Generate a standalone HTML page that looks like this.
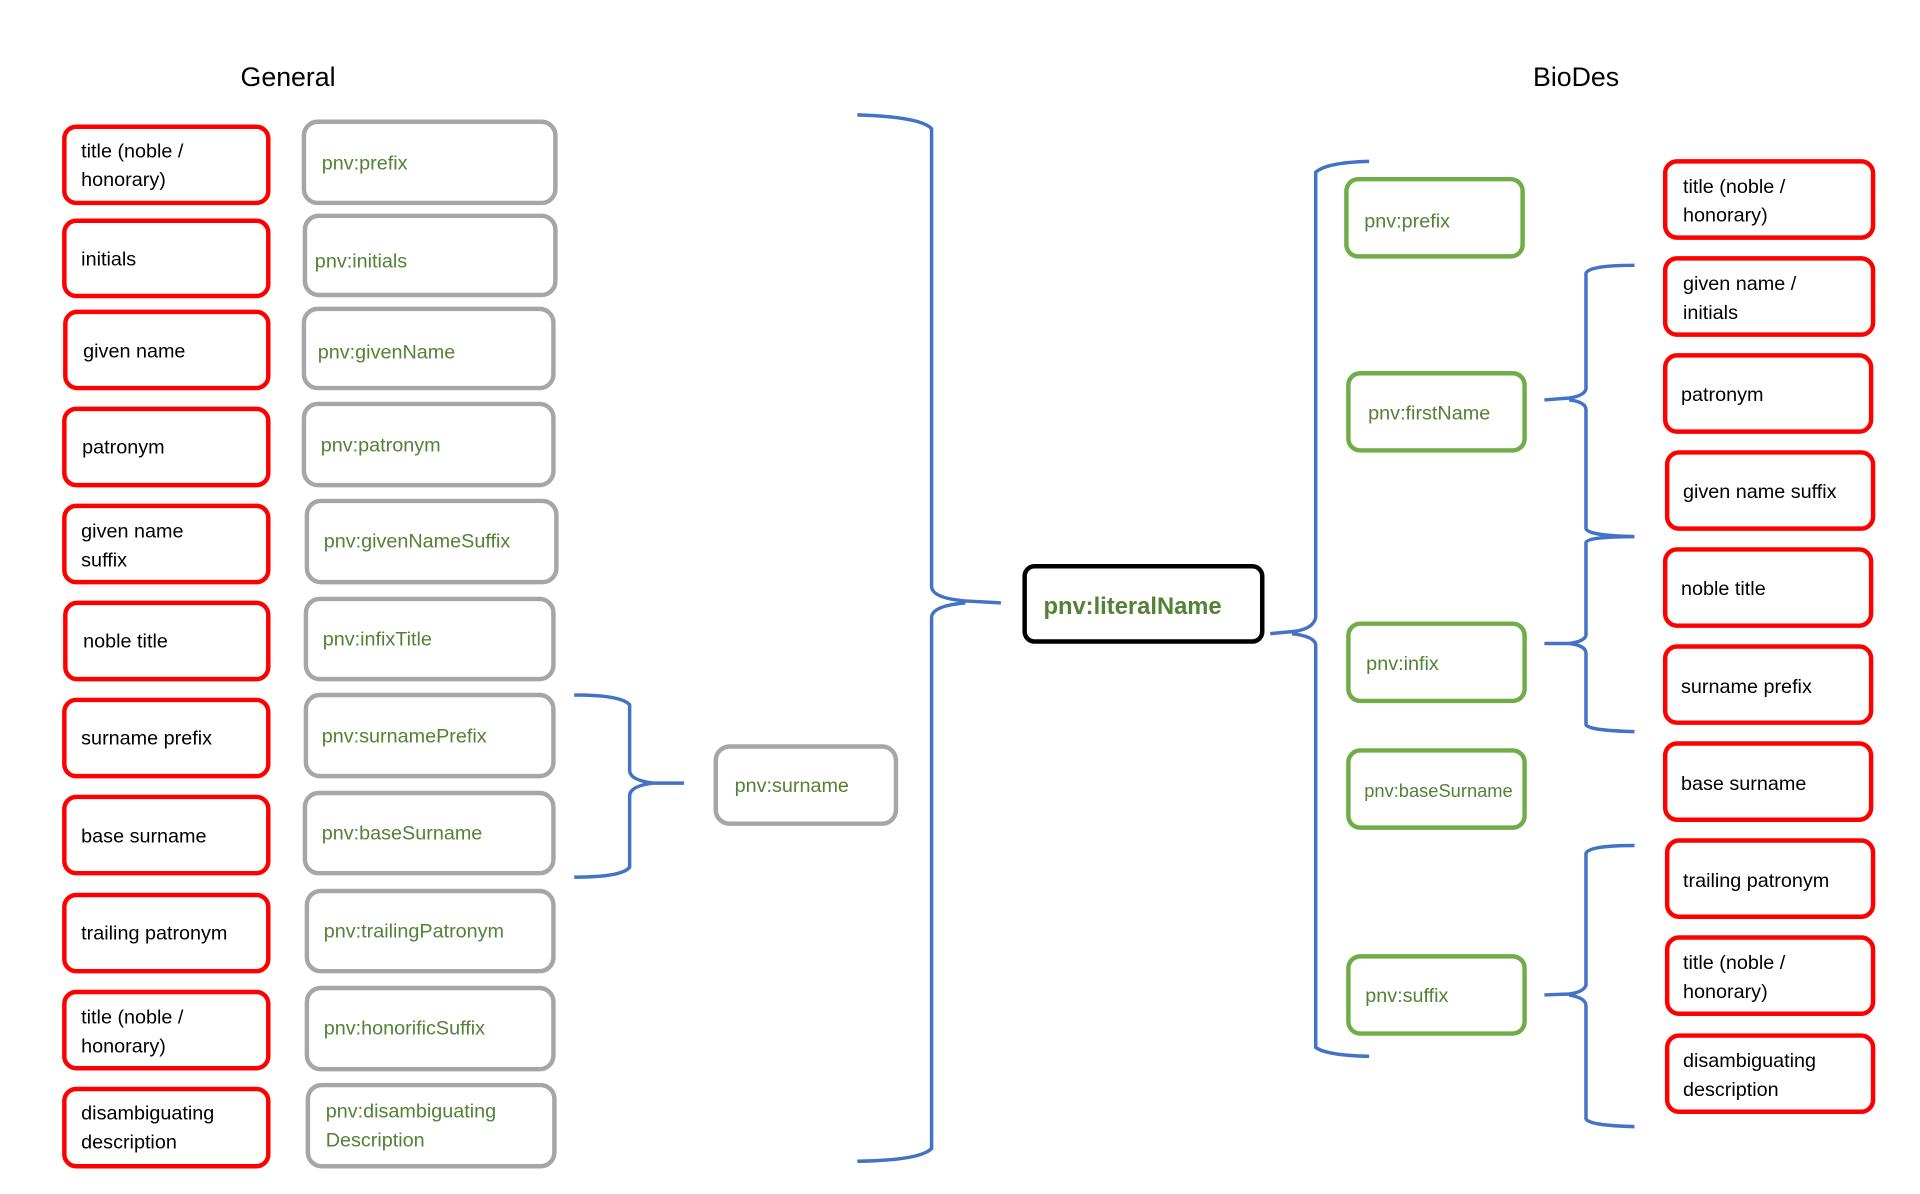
<!DOCTYPE html>
<html><head><meta charset="utf-8"><style>
html,body{margin:0;padding:0;background:#fff;}
svg{display:block}
text{font-family:"Liberation Sans",sans-serif;font-size:20px;}
.r{fill:#fff;stroke:#ff0000;stroke-width:4.5}
.g{fill:#fff;stroke:#a6a6a6;stroke-width:4.5}
.gr{fill:#fff;stroke:#70ad47;stroke-width:4.5}
.k{fill:#000}
.t{fill:#538135}
.b{fill:none;stroke:#4472c4;stroke-width:3.5}
</style></head><body>
<svg width="1920" height="1194" viewBox="0 0 1920 1194" xmlns="http://www.w3.org/2000/svg">
<g transform="scale(0.99)">
<text x="291" y="87" text-anchor="middle" style="font-size:27px">General</text>
<text x="1592" y="87" text-anchor="middle" style="font-size:27px">BioDes</text>

<g>
<rect class="r" x="65" y="128" width="206" height="77" rx="12"/>
<text class="k" x="82" y="159">title (noble /</text><text class="k" x="82" y="188">honorary)</text>
<rect class="r" x="65" y="223" width="206" height="76" rx="12"/>
<text class="k" x="82" y="268">initials</text>
<rect class="r" x="66" y="315" width="205" height="77" rx="12"/>
<text class="k" x="84" y="361">given name</text>
<rect class="r" x="65" y="413" width="206" height="77" rx="12"/>
<text class="k" x="83" y="458">patronym</text>
<rect class="r" x="65" y="511" width="206" height="77" rx="12"/>
<text class="k" x="82" y="543">given name</text><text class="k" x="82" y="572">suffix</text>
<rect class="r" x="66" y="609" width="205" height="77" rx="12"/>
<text class="k" x="84" y="654">noble title</text>
<rect class="r" x="65" y="707" width="206" height="77" rx="12"/>
<text class="k" x="82" y="752">surname prefix</text>
<rect class="r" x="65" y="805" width="206" height="77" rx="12"/>
<text class="k" x="82" y="851">base surname</text>
<rect class="r" x="65" y="904" width="206" height="77" rx="12"/>
<text class="k" x="82" y="949">trailing patronym</text>
<rect class="r" x="65" y="1002" width="206" height="77" rx="12"/>
<text class="k" x="82" y="1034">title (noble /</text><text class="k" x="82" y="1063">honorary)</text>
<rect class="r" x="65" y="1100" width="206" height="78" rx="12"/>
<text class="k" x="82" y="1131">disambiguating</text><text class="k" x="82" y="1160">description</text>
</g>

<g>
<rect class="g" x="307" y="123" width="254" height="82" rx="14"/>
<text class="t" x="325" y="171">pnv:prefix</text>
<rect class="g" x="308" y="218" width="253" height="80" rx="14"/>
<text class="t" x="318" y="270">pnv:initials</text>
<rect class="g" x="307" y="312" width="252" height="80" rx="14"/>
<text class="t" x="321" y="362">pnv:givenName</text>
<rect class="g" x="307" y="408" width="252" height="82" rx="14"/>
<text class="t" x="324" y="456">pnv:patronym</text>
<rect class="g" x="310" y="506" width="252" height="82" rx="14"/>
<text class="t" x="327" y="553">pnv:givenNameSuffix</text>
<rect class="g" x="309" y="605" width="250" height="81" rx="14"/>
<text class="t" x="326" y="652">pnv:infixTitle</text>
<rect class="g" x="309" y="702" width="250" height="82" rx="14"/>
<text class="t" x="325" y="750">pnv:surnamePrefix</text>
<rect class="g" x="308" y="801" width="251" height="81" rx="14"/>
<text class="t" x="325" y="848">pnv:baseSurname</text>
<rect class="g" x="310" y="900" width="249" height="81" rx="14"/>
<text class="t" x="327" y="947">pnv:trailingPatronym</text>
<rect class="g" x="310" y="998" width="249" height="82" rx="14"/>
<text class="t" x="327" y="1045">pnv:honorificSuffix</text>
<rect class="g" x="311" y="1096" width="249" height="82" rx="14"/>
<text class="t" x="329" y="1129">pnv:disambiguating</text><text class="t" x="329" y="1158">Description</text>
</g>

<path class="b" d="M580,702 Q628,702 636,712 L636,778 Q636,788 660,791 L691,791 M660,791 Q636,794 636,804 L636,876 Q628,886 580,886"/>
<rect class="g" x="723" y="754" width="182" height="78" rx="14"/>
<text class="t" x="742" y="800">pnv:surname</text>

<path class="b" d="M866,116 Q930,118 941,130 L941,592 Q941,604 975,607 L1011,609 M975,609 Q941,612 941,624 L941,1160 Q930,1172 866,1173"/>

<rect x="1035" y="572" width="240" height="76" rx="10" fill="#fff" stroke="#000" stroke-width="4.5"/>
<text x="1054" y="620" style="font-size:24px;font-weight:bold;fill:#538135">pnv:literalName</text>

<path class="b" d="M1383,163 Q1340,164 1329,174 L1329,624 Q1326,636 1305,638 L1283,640 M1305,640 Q1329,643 1329,652 L1329,1058 Q1340,1066 1383,1067"/>

<g>
<rect class="gr" x="1360" y="181" width="178" height="78" rx="12"/>
<text class="t" x="1378" y="230">pnv:prefix</text>
<rect class="gr" x="1362" y="377" width="178" height="78" rx="12"/>
<text class="t" x="1382" y="424">pnv:firstName</text>
<rect class="gr" x="1362" y="630" width="178" height="78" rx="12"/>
<text class="t" x="1380" y="677">pnv:infix</text>
<rect class="gr" x="1362" y="758" width="178" height="78" rx="12"/>
<text class="t" x="1378" y="805" style="font-size:18.5px">pnv:baseSurname</text>
<rect class="gr" x="1362" y="966" width="178" height="78" rx="12"/>
<text class="t" x="1379" y="1012">pnv:suffix</text>
</g>

<path class="b" d="M1651,268 Q1605,268 1602,276 L1602,393 Q1600,400 1585,402 L1560,404 M1585,404 Q1602,406 1602,414 L1602,534 Q1604,541 1651,542 M1651,542 Q1604,542 1602,548 L1602,642 Q1600,648 1585,650 L1560,650 M1585,650 Q1602,652 1602,660 L1602,732 Q1605,738 1651,739"/>
<path class="b" d="M1651,854 Q1605,854 1602,862 L1602,995 Q1600,1002 1585,1004 L1560,1005 M1585,1005 Q1602,1008 1602,1016 L1602,1130 Q1605,1137 1651,1138"/>

<g>
<rect class="r" x="1682" y="163" width="210" height="77" rx="12"/>
<text class="k" x="1700" y="195">title (noble /</text><text class="k" x="1700" y="224">honorary)</text>
<rect class="r" x="1682" y="261" width="210" height="77" rx="12"/>
<text class="k" x="1700" y="293">given name /</text><text class="k" x="1700" y="322">initials</text>
<rect class="r" x="1682" y="359" width="208" height="77" rx="12"/>
<text class="k" x="1698" y="405">patronym</text>
<rect class="r" x="1684" y="457" width="208" height="77" rx="12"/>
<text class="k" x="1700" y="503">given name suffix</text>
<rect class="r" x="1682" y="555" width="208" height="77" rx="12"/>
<text class="k" x="1698" y="601">noble title</text>
<rect class="r" x="1682" y="653" width="208" height="77" rx="12"/>
<text class="k" x="1698" y="700">surname prefix</text>
<rect class="r" x="1682" y="751" width="208" height="77" rx="12"/>
<text class="k" x="1698" y="798">base surname</text>
<rect class="r" x="1684" y="849" width="208" height="77" rx="12"/>
<text class="k" x="1700" y="896">trailing patronym</text>
<rect class="r" x="1684" y="947" width="208" height="77" rx="12"/>
<text class="k" x="1700" y="979">title (noble /</text><text class="k" x="1700" y="1008">honorary)</text>
<rect class="r" x="1684" y="1046" width="208" height="77" rx="12"/>
<text class="k" x="1700" y="1078">disambiguating</text><text class="k" x="1700" y="1107">description</text>
</g>
</g>
</svg>
</body></html>
